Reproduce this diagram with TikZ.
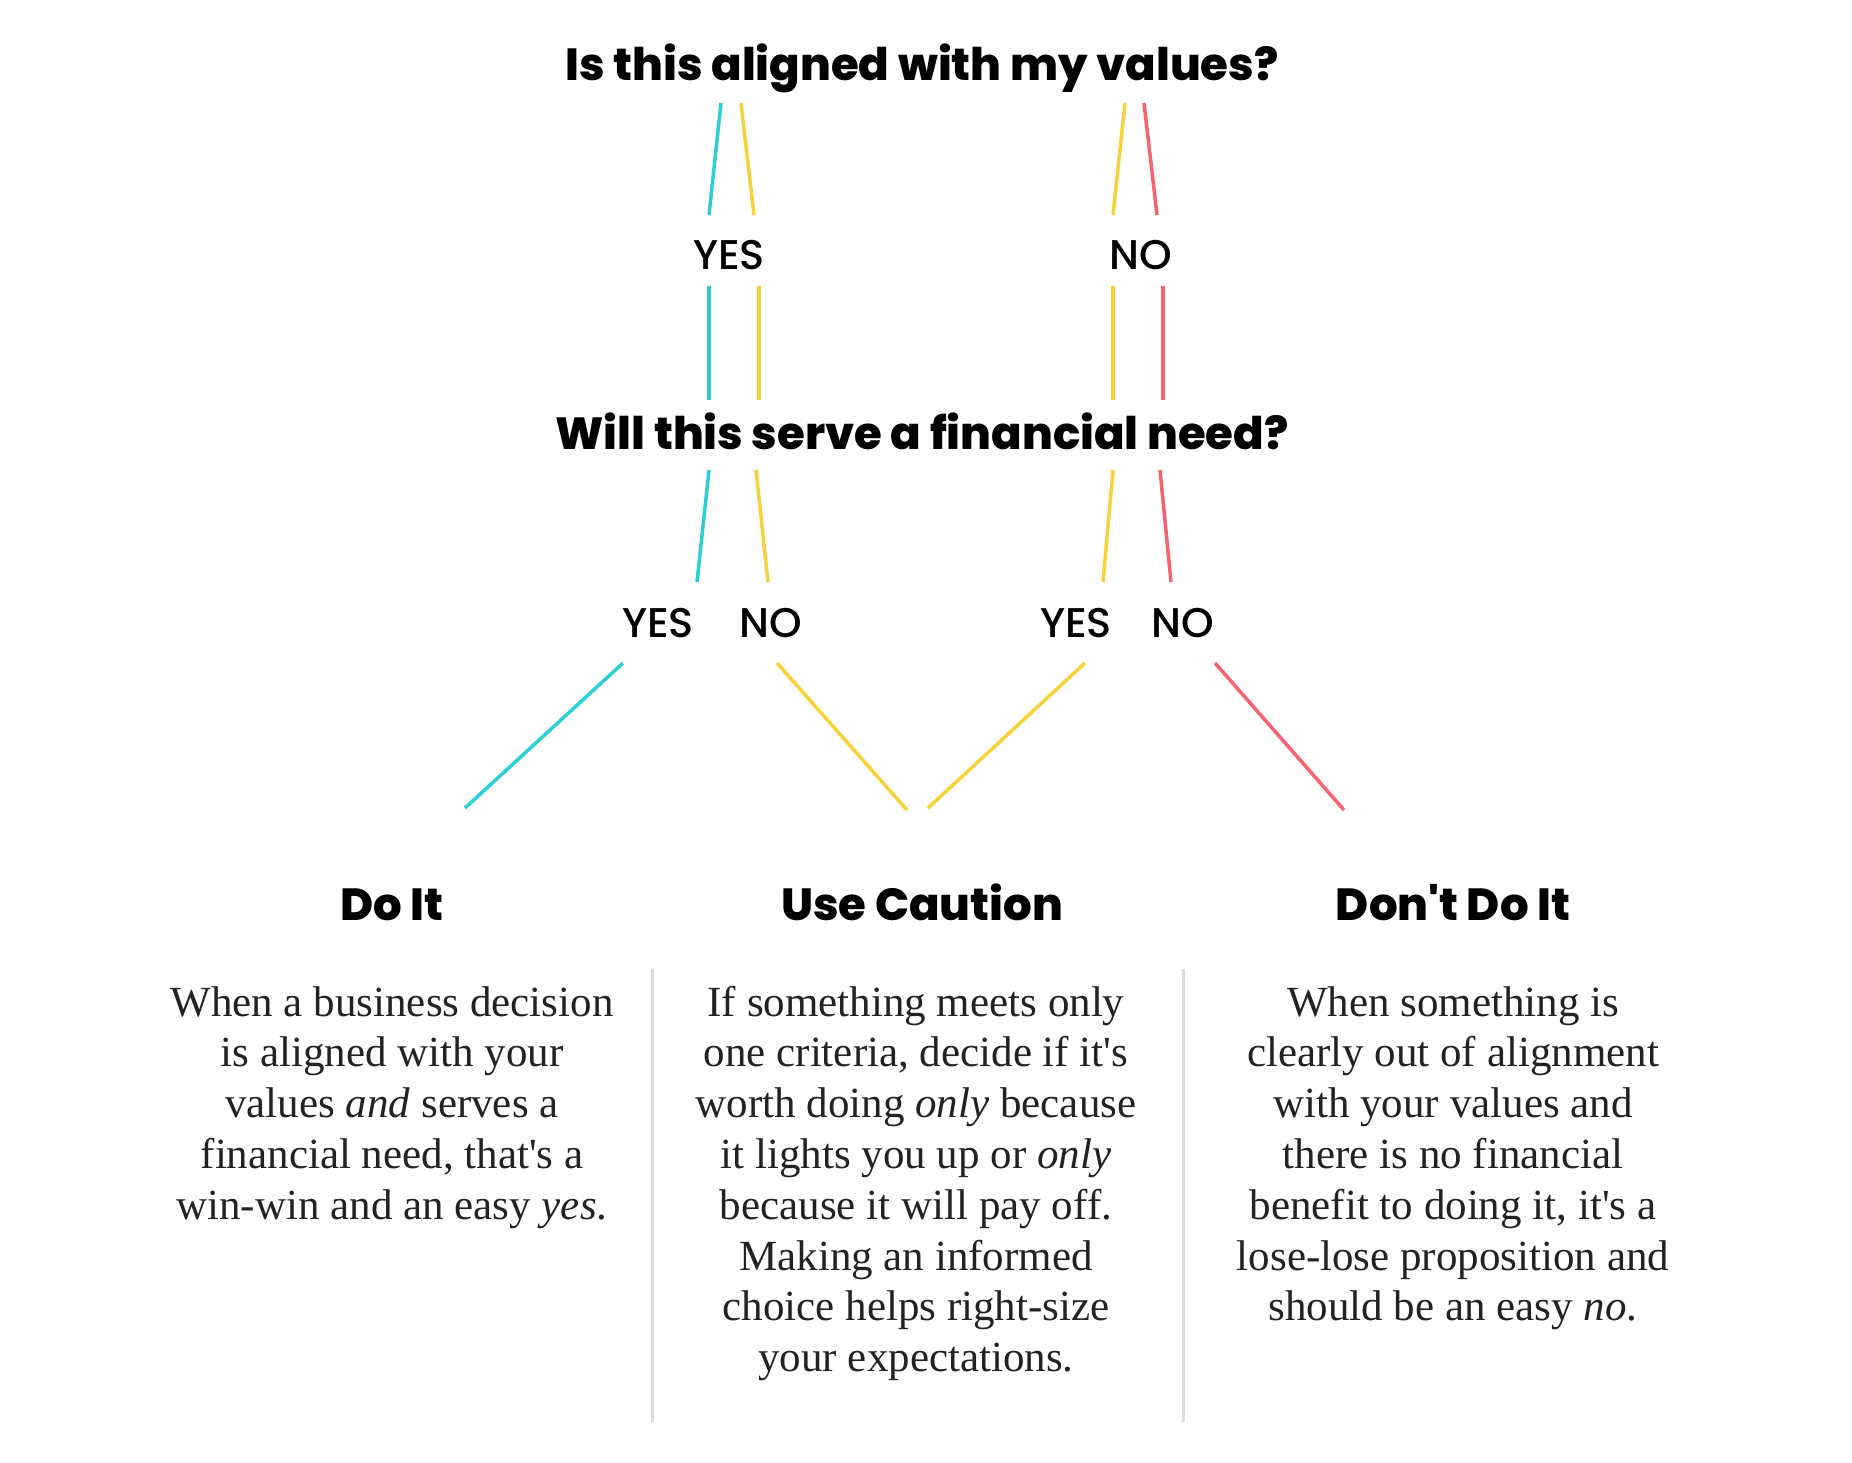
\documentclass[tikz,border=0pt]{standalone}
\usepackage{fontspec}
\setmainfont{Liberation Serif}[Ligatures=TeXOff]
\newfontfamily\popfont{Poppins Medium}[Ligatures=TeXOff]
\newfontfamily\popheavy{Poppins ExtraBold}[Ligatures=TeXOff]
\definecolor{yescol}{HTML}{2DCFD6}
\definecolor{midcol}{HTML}{F8D23A}
\definecolor{nocol}{HTML}{F7636F}
\definecolor{sepcol}{HTML}{DCDCDC}
\definecolor{bodycol}{HTML}{222222}

\tikzset{
  question/.style={font=\popheavy\fontsize{45}{50}\selectfont, anchor=base, inner sep=0pt},
  answer/.style={font=\popfont\fontsize{41.5}{48}\selectfont, anchor=base, inner sep=0pt},
  verdict/.style={font=\popheavy\fontsize{45}{50}\selectfont, anchor=base, inner sep=0pt},
  blurb/.style={font=\fontsize{43}{50.8}\selectfont, text=bodycol, align=center, anchor=base, inner sep=0pt},
  branch/.style={line width=3.5pt}
}

\begin{document}
\begin{tikzpicture}[x=1pt, y=-1pt]
  \useasboundingbox[fill=white] (0,0) rectangle (1852,1462);
  % questions and answers
  \node[question] (q1) at (922,80) {Is this aligned with my values?};
  \node[answer] (yes1) at (729,269) {YES};
  \node[answer] (no1) at (1141,269) {NO};
  \node[question] (q2) at (922,449) {Will this serve a financial need?};
  \node[answer] (yes2a) at (658,637) {YES};
  \node[answer] (no2a) at (771,637) {NO};
  \node[answer] (yes2b) at (1076,637) {YES};
  \node[answer] (no2b) at (1183,637) {NO};
  % branch ends
  \foreach \n/\x/\y in {
      a1/721/103, a2/709/215, b1/741/103, b2/754/215,
      c1/1125/103, c2/1113/215, d1/1144/103, d2/1157/215,
      a3/709/286, a4/709/400, b3/759/286, b4/759/400,
      c3/1113/286, c4/1113/400, d3/1163/286, d4/1163/400,
      a5/709/470, a6/697/582, b5/756/470, b6/768/582,
      c5/1113/470, c6/1103/582, d5/1160/470, d6/1171/582,
      a7/623/663, a8/465/808, b7/777/663, b8/907/810,
      c7/1085/663, c8/928/808, d7/1215/663, d8/1344/810} {
    \coordinate (\n) at (\x,\y);
  }
  % branches
  \foreach \s/\c in {1/2,3/4,5/6,7/8} {
    \draw[branch, yescol] (a\s) -- (a\c);
    \draw[branch, midcol] (b\s) -- (b\c);
    \draw[branch, midcol] (c\s) -- (c\c);
    \draw[branch, nocol] (d\s) -- (d\c);
  }
  % verdicts
  \node[verdict] (doit) at (392,920) {Do It};
  \node[verdict] (caution) at (922,920) {Use Caution};
  \node[verdict] (dont) at (1453,920) {Don't Do It};
  % separators
  \coordinate (s1) at (652,969);
  \coordinate (s2) at (652,1422);
  \coordinate (s3) at (1183,969);
  \coordinate (s4) at (1183,1422);
  \draw[sepcol, line width=3pt] (s1) -- (s2) (s3) -- (s4);
  % texts (base = last line)
  \node[blurb] (doittext) at (392,1219.2) {When a business decision\\is aligned with your\\values \textit{and} serves a\\financial need, that's a\\win-win and an easy \textit{yes}.};
  \node[blurb] (cautiontext) at (916,1371.6) {If something meets only\\one criteria, decide if it's\\worth doing \textit{only} because\\it lights you up or \textit{only}\\because it will pay off.\\Making an informed\\choice helps right-size\\your expectations.};
  \node[blurb] (donttext) at (1453,1320.8) {When something is\\clearly out of alignment\\with your values and\\there is no financial\\benefit to doing it, it's a\\lose-lose proposition and\\should be an easy \textit{no}.};
\end{tikzpicture}
\end{document}
